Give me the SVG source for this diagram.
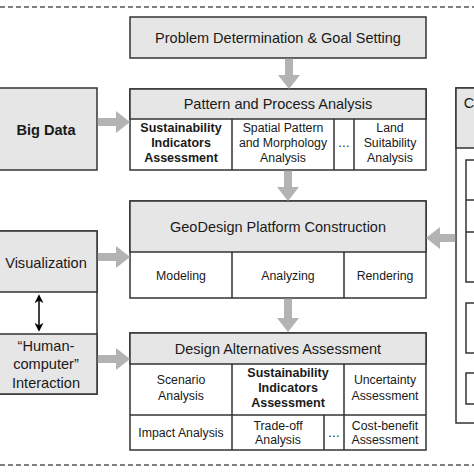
<svg xmlns="http://www.w3.org/2000/svg" width="474" height="474" viewBox="0 0 474 474">
<defs>
<style>
.box{fill:#e6e6e6;stroke:#333;stroke-width:1.5}
.cell{fill:#fff;stroke:#333;stroke-width:1.5}
.ln{stroke:#333;stroke-width:1.5;fill:none}
.dash{stroke:#555;stroke-width:1.3;stroke-dasharray:5,3;fill:none}
.arr{fill:#b3b3b3}
text{font-family:"Liberation Sans",Arial,sans-serif;fill:#1a1a1a;text-anchor:middle}
.h{font-size:14.5px}
.s{font-size:12.3px}
.b{font-size:12.5px;font-weight:bold}
.l{font-size:14.6px}
</style>
<marker id="bk" viewBox="0 0 10 10" refX="8" refY="5" markerWidth="6" markerHeight="6" orient="auto-start-reverse">
<path d="M0,0 L10,5 L0,10 L3,5 Z" fill="#000"/>
</marker>
</defs>
<rect width="474" height="474" fill="#fff"/>
<line class="dash" x1="0" y1="7" x2="474" y2="7"/>
<line class="dash" x1="0" y1="465" x2="474" y2="465"/>

<g id="problem">
<rect class="box" x="130" y="17" width="296" height="41"/>
<text class="h" x="278" y="43">Problem Determination &amp; Goal Setting</text>
</g>

<g id="pattern">
<rect class="cell" x="130" y="89" width="296" height="81"/>
<rect class="box" x="130" y="89" width="296" height="30"/>
<line class="ln" x1="232" y1="119" x2="232" y2="170"/>
<line class="ln" x1="334" y1="119" x2="334" y2="170"/>
<line class="ln" x1="354" y1="119" x2="354" y2="170"/>
<text class="h" x="278" y="109">Pattern and Process Analysis</text>
<text class="b" x="181" y="132">Sustainability</text>
<text class="b" x="181" y="147">Indicators</text>
<text class="b" x="181" y="161.5">Assessment</text>
<text class="s" x="283" y="132">Spatial Pattern</text>
<text class="s" x="283" y="147">and Morphology</text>
<text class="s" x="283" y="161.5">Analysis</text>
<text class="s" x="344" y="147">…</text>
<text class="s" x="390" y="132">Land</text>
<text class="s" x="390" y="147">Suitability</text>
<text class="s" x="390" y="161.5">Analysis</text>
</g>

<g id="geodesign">
<rect class="cell" x="130" y="201" width="296" height="97"/>
<rect class="box" x="130" y="201" width="296" height="51"/>
<line class="ln" x1="232" y1="252" x2="232" y2="298"/>
<line class="ln" x1="344" y1="252" x2="344" y2="298"/>
<text class="h" x="278" y="232">GeoDesign Platform Construction</text>
<text class="s" x="181" y="279.5">Modeling</text>
<text class="s" x="288" y="279.5">Analyzing</text>
<text class="s" x="385" y="279.5">Rendering</text>
</g>

<g id="design">
<rect class="cell" x="130" y="333" width="296" height="117"/>
<rect class="box" x="130" y="333" width="296" height="31"/>
<line class="ln" x1="130" y1="415" x2="426" y2="415"/>
<line class="ln" x1="232" y1="364" x2="232" y2="450"/>
<line class="ln" x1="344" y1="364" x2="344" y2="450"/>
<line class="ln" x1="324" y1="415" x2="324" y2="450"/>
<text class="h" x="278" y="354">Design Alternatives Assessment</text>
<text class="s" x="181" y="384">Scenario</text>
<text class="s" x="181" y="399.5">Analysis</text>
<text class="b" x="288" y="376.5">Sustainability</text>
<text class="b" x="288" y="392">Indicators</text>
<text class="b" x="288" y="406.5">Assessment</text>
<text class="s" x="385" y="384">Uncertainty</text>
<text class="s" x="385" y="399.5">Assessment</text>
<text class="s" x="181" y="437">Impact Analysis</text>
<text class="s" x="278" y="429.5">Trade-off</text>
<text class="s" x="278" y="443.5">Analysis</text>
<text class="s" x="334" y="437">…</text>
<text class="s" x="385" y="429.5">Cost-benefit</text>
<text class="s" x="385" y="443.5">Assessment</text>
</g>

<g id="bigdata">
<rect class="box" x="-2" y="88" width="99" height="82"/>
<text class="l" x="46" y="135" font-weight="bold">Big Data</text>
</g>

<g id="interaction">
<rect class="cell" x="-2" y="231" width="99" height="163"/>
<rect class="box" x="-2" y="231" width="99" height="61"/>
<rect class="box" x="-2" y="334" width="99" height="60"/>
<text class="l" x="46" y="268">Visualization</text>
<text class="l" x="46" y="351">“Human-</text>
<text class="l" x="46" y="369">computer”</text>
<text class="l" x="46" y="388">Interaction</text>
</g>

<g id="right">
<rect class="cell" x="456" y="88" width="30" height="335"/>
<rect class="box" x="456" y="88" width="30" height="60"/>
<text class="l" x="469" y="108">C</text>
<rect class="cell" x="466" y="160" width="20" height="122"/>
<line class="ln" x1="466" y1="200" x2="486" y2="200"/>
<line class="ln" x1="466" y1="232" x2="486" y2="232"/>
<rect class="cell" x="466" y="303" width="20" height="50"/>
<rect class="cell" x="466" y="373" width="20" height="31"/>
</g>

<g id="connectors">
<path class="arr" d="M285,58.8 h8 v16.2 h7 l-11,14 l-11,-14 h7 z"/>
<path class="arr" d="M284,170.8 h8 v16.2 h7 l-11,14 l-11,-14 h7 z"/>
<path class="arr" d="M284,298.8 h8 v19.2 h7 l-11,14 l-11,-14 h7 z"/>
<path class="arr" d="M97.8,118 h18.2 v-7 l14,11 l-14,11 v-7 h-18.2 z"/>
<path class="arr" d="M97.8,253 h18.2 v-7 l14,11 l-14,11 v-7 h-18.2 z"/>
<path class="arr" d="M97.8,355 h18.2 v-7 l14,11 l-14,11 v-7 h-18.2 z"/>
<path class="arr" d="M455.2,234 h-15.2 v-7 l-14,11 l14,11 v-7 h15.2 z"/>
<line x1="39" y1="296" x2="39" y2="330" stroke="#000" stroke-width="1.5" marker-start="url(#bk)" marker-end="url(#bk)"/>
</g>
</svg>
